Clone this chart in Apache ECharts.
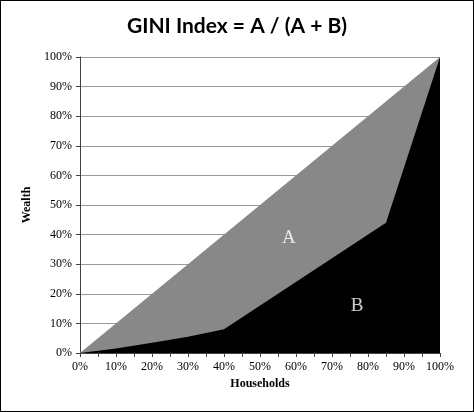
<!DOCTYPE html>
<html><head><meta charset="utf-8">
<script src="https://cdn.jsdelivr.net/npm/echarts@6/dist/echarts.min.js"></script>
<style>html,body{margin:0;padding:0;background:#fff}#c{width:472px;height:410px;border:1px solid #000}</style>
</head><body><div id="c"></div>
<script>
var households = [0, 10, 20, 30, 40, 85, 100];
var wealth = [0, 1.5, 3.5, 5.5, 8, 44, 100];
var equality = [[0, 0], [100, 100]];
var areaLabels = [{name: 'A', value: [58, 39]}, {name: 'B', value: [77, 16]}];
var lorenz = households.map(function (h, i) { return [h, wealth[i]]; });
var chart = echarts.init(document.getElementById('c'));
var serif = '"Liberation Serif", "DejaVu Serif", serif';
chart.setOption({
  animation: false,
  title: {text: 'GINI Index = A / (A + B)', left: 'center', top: 10,
    textStyle: {fontFamily: 'Lato, "Open Sans", sans-serif', fontWeight: 'bold', fontSize: 21, color: '#000'}},
  grid: {left: 79, right: 33, top: 56, bottom: 58},
  xAxis: {type: 'value', min: 0, max: 100, interval: 5,
    name: 'Households', nameLocation: 'middle', nameGap: 24,
    nameTextStyle: {fontFamily: serif, fontWeight: 'bold', fontSize: 12, color: '#000'},
    axisLine: {lineStyle: {color: '#444'}}, axisTick: {show: true, length: 4, lineStyle: {color: '#444'}},
    splitLine: {show: false},
    axisLabel: {fontFamily: serif, fontSize: 12, color: '#000',
      formatter: function (v) { return v % 10 === 0 ? v + '%' : ''; }}},
  yAxis: {type: 'value', min: 0, max: 100, interval: 10,
    name: 'Wealth', nameLocation: 'middle', nameGap: 44,
    nameTextStyle: {fontFamily: serif, fontWeight: 'bold', fontSize: 12, color: '#000'},
    axisLine: {show: true, lineStyle: {color: '#444'}}, axisTick: {show: true, length: 4, lineStyle: {color: '#444'}},
    splitLine: {lineStyle: {color: '#999'}},
    axisLabel: {fontFamily: serif, fontSize: 12, color: '#000', formatter: '{value}%'}},
  series: [
    {type: 'line', data: equality, symbol: 'none', lineStyle: {width: 0},
      areaStyle: {color: '#888888', opacity: 1}, z: 2},
    {type: 'line', data: lorenz, symbol: 'none', lineStyle: {width: 0},
      areaStyle: {color: '#000000', opacity: 1}, z: 3},
    {type: 'scatter', data: areaLabels, symbolSize: 0, z: 5,
      label: {show: true, position: 'inside', formatter: '{b}', fontFamily: serif, fontSize: 19, color: '#fff'}}
  ]
});
</script></body></html>
